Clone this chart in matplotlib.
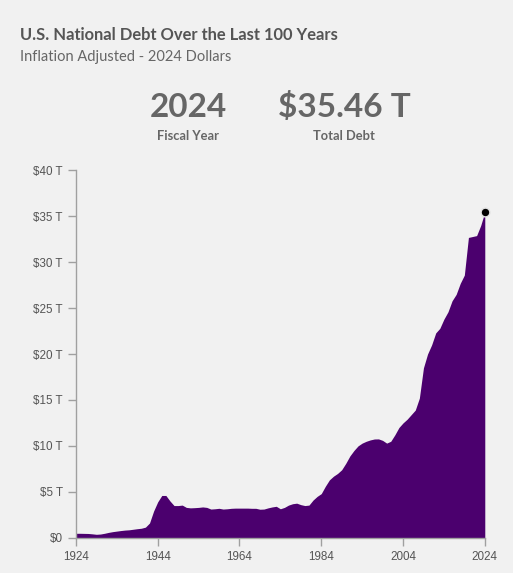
import matplotlib.pyplot as plt

# fiscal years and inflation adjusted debt (trillions of 2024 dollars)
years = list(range(1924, 2025))
debt = [
    0.48, 0.48, 0.47, 0.46, 0.42, 0.37, 0.40, 0.48, 0.58, 0.66,  # 1924-1933
    0.72, 0.78, 0.83, 0.86, 0.92, 0.98, 1.03, 1.15, 1.60, 2.90,  # 1934-1943
    3.90, 4.60, 4.60, 4.00, 3.50, 3.50, 3.55, 3.30, 3.25, 3.27,  # 1944-1953
    3.30, 3.35, 3.30, 3.12, 3.15, 3.20, 3.12, 3.15, 3.20, 3.22,  # 1954-1963
    3.22, 3.22, 3.22, 3.20, 3.20, 3.10, 3.12, 3.25, 3.35, 3.42,  # 1964-1973
    3.15, 3.30, 3.55, 3.70, 3.76, 3.60, 3.50, 3.55, 4.10, 4.50,  # 1974-1983
    4.80, 5.60, 6.30, 6.70, 7.00, 7.40, 8.10, 8.90, 9.50, 10.0,  # 1984-1993
    10.3, 10.5, 10.65, 10.75, 10.76, 10.6, 10.3, 10.5, 11.2, 12.0,  # 1994-2003
    12.5, 12.9, 13.4, 13.9, 15.2, 18.5, 20.0, 21.0, 22.3, 22.8,  # 2004-2013
    23.8, 24.6, 25.8, 26.5, 27.7, 28.6, 32.7, 32.8, 32.9, 34.0,  # 2014-2023
    35.46,  # 2024
]
x_ticks = [1924, 1944, 1964, 1984, 2004, 2024]
y_ticks = [0, 5, 10, 15, 20, 25, 30, 35, 40]
y_labels = ["$0"] + [f"${v} T" for v in y_ticks[1:]]

BG = "#f1f1f1"
PURPLE = "#4b006e"
HEAD = ["Lato", "DejaVu Sans"]

fig = plt.figure(figsize=(5.13, 5.73), dpi=100, facecolor=BG)
ax = fig.add_axes([0.148, 0.0616, 0.797, 0.641], facecolor=BG)

ax.fill_between(years, debt, 0, color=PURPLE, lw=0)
ax.scatter([years[-1]], [debt[-1]], s=40, color="black", edgecolors="#e2e2e2",
           linewidths=1, zorder=5, clip_on=False)

ax.set_xlim(1924, 2024)
ax.set_ylim(0, 40)
ax.set_xticks(x_ticks)
ax.set_yticks(y_ticks)
ax.set_yticklabels(y_labels)
for s in ["top", "right"]:
    ax.spines[s].set_visible(False)
for s in ["left", "bottom"]:
    ax.spines[s].set_color("#a0a0a0")
    ax.spines[s].set_linewidth(1)
ax.tick_params(colors="#a0a0a0", length=6, width=1, labelcolor="#555555",
               labelsize=8.4)
for lbl in ax.get_xticklabels() + ax.get_yticklabels():
    lbl.set_family(["Liberation Sans", "DejaVu Sans"])

fig.text(20 / 513, 1 - 40 / 573, "U.S. National Debt Over the Last 100 Years",
         family=HEAD, weight="bold", fontsize=11.9, color="#555555", va="baseline")
fig.text(20 / 513, 1 - 61 / 573, "Inflation Adjusted - 2024 Dollars",
         family=HEAD, fontsize=10.5, color="#666666", va="baseline")

fig.text(188 / 513, 1 - 117 / 573, str(years[-1]), family=HEAD, weight="bold",
         fontsize=24, color="#666666", ha="center", va="baseline")
fig.text(188 / 513, 1 - 140 / 573, "Fiscal Year", family=HEAD, weight="bold",
         fontsize=9.3, color="#666666", ha="center", va="baseline")
fig.text(344 / 513, 1 - 117 / 573, f"${debt[-1]:.2f} T", family=HEAD,
         weight="bold", fontsize=24, color="#666666", ha="center", va="baseline")
fig.text(344 / 513, 1 - 140 / 573, "Total Debt", family=HEAD, weight="bold",
         fontsize=9.3, color="#666666", ha="center", va="baseline")

fig.savefig("out.png", dpi=100, facecolor=BG)
